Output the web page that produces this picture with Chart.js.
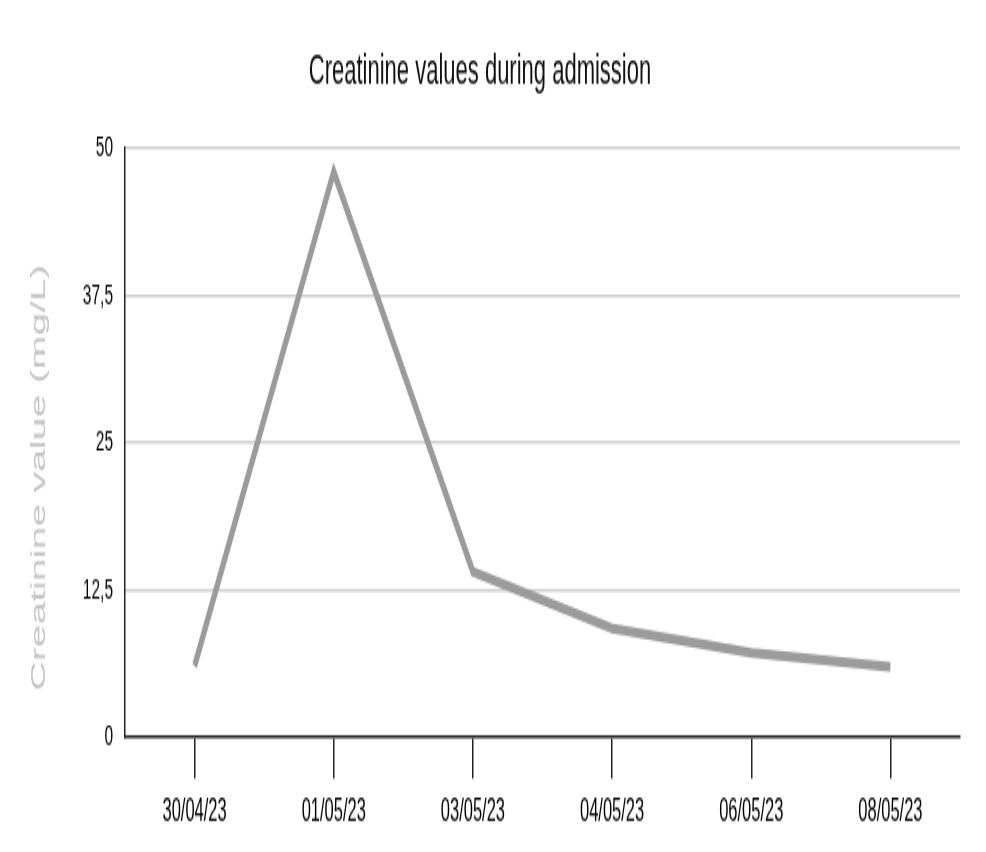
<!DOCTYPE html>
<html>
<head>
<meta charset="utf-8">
<title>Creatinine values during admission</title>
<script src="https://cdn.jsdelivr.net/npm/chart.js@4"></script>
<style>
  html, body { margin: 0; padding: 0; background: #fff; width: 986px; height: 852px; }
  /* the reference picture is stretched vertically, so the chart is drawn short and scaled up */
  #wrap { width: 986px; height: 437px; transform: scaleY(1.95); transform-origin: 0 0; }
</style>
</head>
<body>
<div id="wrap"><canvas id="chart" width="986" height="437"></canvas></div>
<script>
const dates = ["30/04/23", "01/05/23", "03/05/23", "04/05/23", "06/05/23", "08/05/23"];
const creatinine = [6, 48, 14, 9.2, 7.1, 5.9];
const yTickLabels = ["0", "12,5", "25", "37,5", "50"];
const yMin = 0;
const yMax = 50;
const yStep = 12.5;

const FONT = '"Liberation Sans", Arial, sans-serif';

// rotated y title, drawn a bit lower than the built-in one would be
const yTitle = {
  id: 'yTitle',
  afterDraw(chart) {
    const ctx = chart.ctx;
    ctx.save();
    ctx.translate(39, 245);
    ctx.rotate(-Math.PI / 2);
    ctx.font = `21px ${FONT}`;
    ctx.fillStyle = '#c4c4c4';
    ctx.textAlign = 'center';
    ctx.textBaseline = 'middle';
    ctx.fillText('Creatinine value (mg/L)', 0, 0);
    ctx.restore();
  }
};

new Chart(document.getElementById('chart'), {
  type: 'line',
  data: {
    labels: dates,
    datasets: [{
      label: 'Creatinine',
      data: creatinine,
      borderColor: '#9b9b9b',
      borderWidth: 5,
      borderCapStyle: 'butt',
      borderJoinStyle: 'miter',
      pointRadius: 0,
      tension: 0,
      fill: false
    }]
  },
  options: {
    responsive: false,
    animation: false,
    layout: { padding: { top: 0, right: 26, bottom: 4, left: 0 } },
    scales: {
      x: {
        offset: true,
        grid: { offset: false, drawOnChartArea: false, drawTicks: true, tickLength: 21.5, color: '#222', lineWidth: 1.5 },
        border: { color: '#222', width: 1.5 },
        ticks: { padding: 7, color: '#000', font: { family: FONT, size: 16.5 }, maxRotation: 0, autoSkip: false }
      },
      y: {
        min: yMin,
        max: yMax,
        afterFit(scale) { scale.width = 125; },
        grid: { color: '#d0d0d0', lineWidth: 1.5, drawTicks: false },
        border: { color: '#222', width: 1.5 },
        ticks: {
          stepSize: yStep,
          padding: 12,
          color: '#000',
          font: { family: FONT, size: 15.5 },
          callback: (v, i) => yTickLabels[i]
        }
      }
    },
    plugins: {
      legend: { display: false },
      tooltip: { enabled: false },
      title: {
        display: true,
        text: 'Creatinine values during admission',
        color: '#111',
        font: { family: FONT, size: 22, weight: 'normal' },
        padding: { top: 23.7, bottom: 25.8 }
      }
    }
  },
  plugins: [yTitle]
});
</script>
</body>
</html>
